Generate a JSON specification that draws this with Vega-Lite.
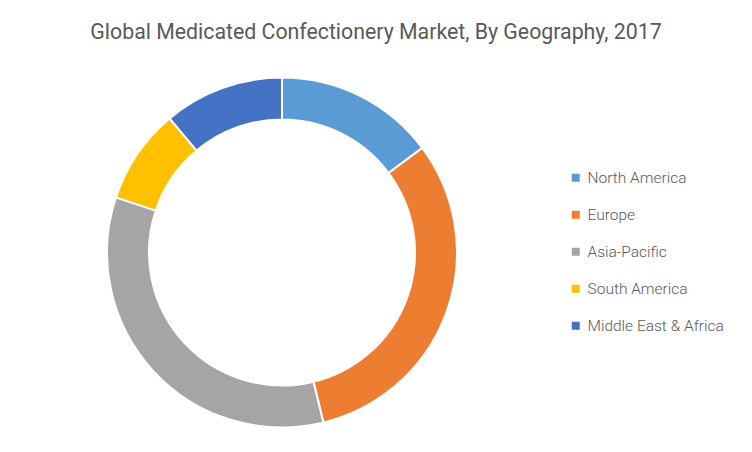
{
  "$schema": "https://vega.github.io/schema/vega-lite/v6.json",
  "width": 564,
  "height": 401,
  "padding": {"top": 21, "left": 0, "right": 28, "bottom": 0},
  "background": "white",
  "title": {
    "text": "Global Medicated Confectionery Market, By Geography, 2017",
    "font": "Roboto",
    "fontSize": 21.3,
    "fontWeight": "normal",
    "color": "#595959",
    "anchor": "middle",
    "frame": "bounds",
    "offset": 9,
    "dx": 14
  },
  "data": {
    "values": [
      {"region": "North America", "share": 14.8, "ord": 1},
      {"region": "Europe", "share": 31.4, "ord": 2},
      {"region": "Asia-Pacific", "share": 33.9, "ord": 3},
      {"region": "South America", "share": 8.8, "ord": 4},
      {"region": "Middle East & Africa", "share": 11.1, "ord": 5}
    ]
  },
  "mark": {"type": "arc", "outerRadius": 175, "innerRadius": 133, "stroke": "white", "strokeWidth": 2},
  "encoding": {
    "theta": {"field": "share", "type": "quantitative", "stack": true},
    "order": {"field": "ord", "type": "quantitative"},
    "color": {
      "field": "region",
      "type": "nominal",
      "sort": ["North America", "Europe", "Asia-Pacific", "South America", "Middle East & Africa"],
      "scale": {
        "domain": ["North America", "Europe", "Asia-Pacific", "South America", "Middle East & Africa"],
        "range": ["#5B9BD5", "#ED7D31", "#A5A5A5", "#FFC000", "#4472C4"]
      },
      "legend": {
        "title": null,
        "orient": "none",
        "legendX": 568,
        "legendY": 118,
        "symbolType": "square",
        "symbolSize": 64,
        "symbolStrokeWidth": 0,
        "labelFont": "Roboto",
        "labelFontSize": 15.5,
        "labelFontWeight": 300,
        "labelColor": "#595959",
        "labelOffset": 4,
        "rowPadding": 20
      }
    }
  },
  "config": {"view": {"stroke": null}}
}
